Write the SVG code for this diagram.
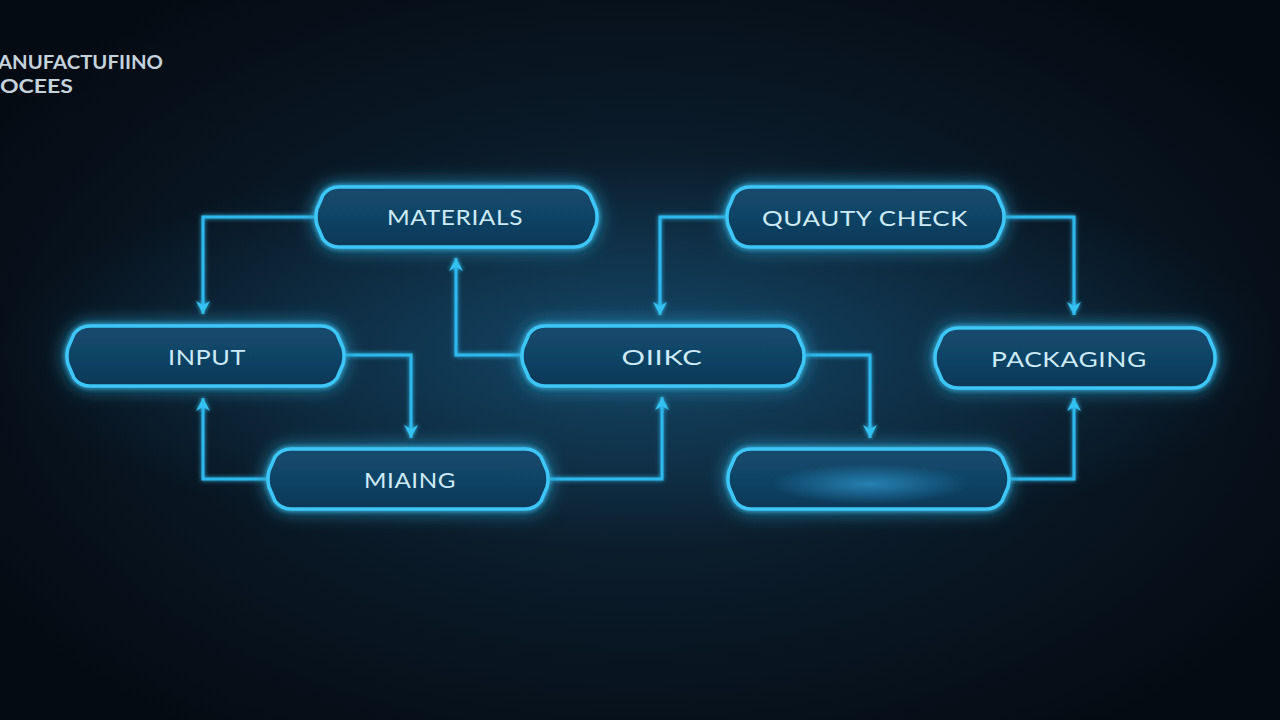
<svg xmlns="http://www.w3.org/2000/svg" width="1280" height="720" viewBox="0 0 1280 720">
<defs>
<radialGradient id="bg" cx="640" cy="360" r="760" gradientUnits="userSpaceOnUse" gradientTransform="translate(640 360) scale(1 0.6) translate(-640 -360)">
<stop offset="0" stop-color="#0f2a3e"/>
<stop offset="0.5" stop-color="#0a1a28"/>
<stop offset="1" stop-color="#050b13"/>
</radialGradient>
<linearGradient id="nodefill" x1="0" y1="0" x2="0" y2="1">
<stop offset="0" stop-color="#134a6e"/>
<stop offset="0.5" stop-color="#114466"/>
<stop offset="1" stop-color="#0d3756"/>
</linearGradient>
<radialGradient id="hot" cx="0.5" cy="0.5" r="0.5">
<stop offset="0" stop-color="#2a8cc0" stop-opacity="0.85"/>
<stop offset="1" stop-color="#2a8cc0" stop-opacity="0"/>
</radialGradient>
<radialGradient id="halo" cx="0.5" cy="0.5" r="0.5">
<stop offset="0" stop-color="#1a6a9a" stop-opacity="0.45"/>
<stop offset="1" stop-color="#1a6a9a" stop-opacity="0"/>
</radialGradient>
<filter id="glow" x="-20%" y="-60%" width="140%" height="220%">
<feGaussianBlur in="SourceGraphic" stdDeviation="2.5" result="b"/>
<feGaussianBlur in="SourceGraphic" stdDeviation="9" result="b2"/>
<feMerge><feMergeNode in="b2"/><feMergeNode in="b"/><feMergeNode in="SourceGraphic"/></feMerge>
</filter>
<filter id="lglow" x="-20%" y="-20%" width="140%" height="140%">
<feGaussianBlur in="SourceGraphic" stdDeviation="2" result="b"/>
<feMerge><feMergeNode in="b"/><feMergeNode in="SourceGraphic"/></feMerge>
</filter>
<marker id="arr" markerUnits="userSpaceOnUse" markerWidth="16" markerHeight="14" refX="13" refY="7" orient="auto">
<path d="M0,0 L13,7 L0,14 L4,7 Z" fill="#34c2f2"/>
</marker>
<style>
.node{fill:url(#nodefill);stroke:#3cc6f6;stroke-width:3.5;stroke-linejoin:round;filter:url(#glow)}
.lbl{font-family:"Lato","Liberation Sans",sans-serif;font-size:21px;fill:#cdeaf7;text-anchor:middle;letter-spacing:0.5px}
.conn{fill:none;stroke:#2fb9ee;stroke-width:3;filter:url(#lglow)}
.title{font-family:"Lato","Liberation Sans",sans-serif;font-size:19px;font-weight:bold;fill:#c4d2dc}
</style>
</defs>
<rect width="1280" height="720" fill="url(#bg)"/>
<ellipse cx="640" cy="350" rx="640" ry="200" fill="url(#halo)"/>

<text class="title" x="-2" y="69" textLength="165" lengthAdjust="spacingAndGlyphs">ANUFACTUFIINO</text>
<text class="title" x="0" y="93" textLength="73" lengthAdjust="spacingAndGlyphs">OCEES</text>

<g id="connectors">
<path class="conn" d="M315,217 H203 V314" marker-end="url(#arr)"/>
<path class="conn" d="M345,355 H411 V438" marker-end="url(#arr)"/>
<path class="conn" d="M267,479 H203 V398" marker-end="url(#arr)"/>
<path class="conn" d="M549,479 H662 V397" marker-end="url(#arr)"/>
<path class="conn" d="M521,355 H456 V258" marker-end="url(#arr)"/>
<path class="conn" d="M726,217 H660 V315" marker-end="url(#arr)"/>
<path class="conn" d="M805,355 H870 V438" marker-end="url(#arr)"/>
<path class="conn" d="M1005,217 H1074 V315" marker-end="url(#arr)"/>
<path class="conn" d="M1010,479 H1074 V398" marker-end="url(#arr)"/>
</g>

<g id="n-materials">
<path class="node" d="M339,187 h235 q10,0 16,8 l6,14 q2,8 0,16 l-6,14 q-6,8 -16,8 h-235 q-10,0 -16,-8 l-6,-14 q-2,-8 0,-16 l6,-14 q6,-8 16,-8 z"/>
<text class="lbl" x="455" y="225" textLength="136" lengthAdjust="spacingAndGlyphs">MATERIALS</text>
</g>
<g id="n-quality">
<path class="node" d="M750,187 h231 q10,0 16,8 l6,14 q2,8 0,16 l-6,14 q-6,8 -16,8 h-231 q-10,0 -16,-8 l-6,-14 q-2,-8 0,-16 l6,-14 q6,-8 16,-8 z"/>
<text class="lbl" x="865" y="226" textLength="206" lengthAdjust="spacingAndGlyphs">QUAUTY CHECK</text>
</g>
<g id="n-input">
<path class="node" d="M90,326 h231 q10,0 16,8 l6,14 q2,8 0,16 l-6,14 q-6,8 -16,8 h-231 q-10,0 -16,-8 l-6,-14 q-2,-8 0,-16 l6,-14 q6,-8 16,-8 z"/>
<text class="lbl" x="207" y="365" textLength="78" lengthAdjust="spacingAndGlyphs">INPUT</text>
</g>
<g id="n-center">
<path class="node" d="M545,326 h236 q10,0 16,8 l6,14 q2,8 0,16 l-6,14 q-6,8 -16,8 h-236 q-10,0 -16,-8 l-6,-14 q-2,-8 0,-16 l6,-14 q6,-8 16,-8 z"/>
<text class="lbl" x="662" y="365" textLength="81" lengthAdjust="spacingAndGlyphs">OIIKC</text>
</g>
<g id="n-packaging">
<path class="node" d="M958,328 h234 q10,0 16,8 l6,14 q2,8 0,16 l-6,14 q-6,8 -16,8 h-234 q-10,0 -16,-8 l-6,-14 q-2,-8 0,-16 l6,-14 q6,-8 16,-8 z"/>
<text class="lbl" x="1069" y="367" textLength="156" lengthAdjust="spacingAndGlyphs">PACKAGING</text>
</g>
<g id="n-mixing">
<path class="node" d="M291,449 h234 q10,0 16,8 l6,14 q2,8 0,16 l-6,14 q-6,8 -16,8 h-234 q-10,0 -16,-8 l-6,-14 q-2,-8 0,-16 l6,-14 q6,-8 16,-8 z"/>
<text class="lbl" x="410" y="488" textLength="92" lengthAdjust="spacingAndGlyphs">MIAING</text>
</g>
<g id="n-empty">
<path class="node" d="M751,449 h235 q10,0 16,8 l6,14 q2,8 0,16 l-6,14 q-6,8 -16,8 h-235 q-10,0 -16,-8 l-6,-14 q-2,-8 0,-16 l6,-14 q6,-8 16,-8 z"/>
<ellipse cx="870" cy="484" rx="100" ry="20" fill="url(#hot)"/>
</g>
</svg>
